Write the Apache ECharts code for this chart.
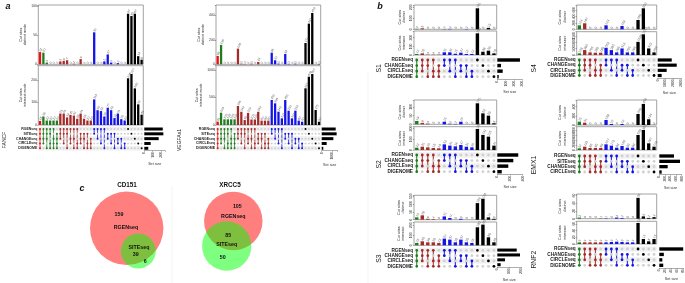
<!DOCTYPE html>
<html><head><meta charset="utf-8">
<script src="https://cdn.jsdelivr.net/npm/echarts@6/dist/echarts.min.js"></script>
<style>html,body{margin:0;padding:0;background:#fff}#c{width:685px;height:283px}</style>
</head><body><div id="c"></div>
<script>
// ---------- DATA ----------
const setsA = ['RGENseq','SITEseq','CHANGEseq','CIRCLEseq','DIGENOME'];
const setsB = ['RGENseq','CHANGEseq','CIRCLEseq','DIGENOME'];
const setsEMX1 = ['RGENseq','SITEseq','CHANGEseq','CIRCLEseq'];

const combos5 = [[0,1,2,3,4],[0,1,2,3],[0,1,2,4],[0,1,3,4],[0,2,3,4],[1,2,3,4],
  [0,1,2],[0,1,3],[0,1,4],[0,2,3],[0,2,4],[0,3,4],[1,2,3],[1,2,4],[1,3,4],[2,3,4],
  [0,1],[0,2],[0,3],[0,4],[1,2],[1,3],[1,4],[2,3],[2,4],[3,4],[0],[1],[2],[3],[4]];
const combos4 = [[0,1,2,3],[0,1,2],[0,1,3],[0,2,3],[1,2,3],[0,1],[0,2],[0,3],[1,2],[1,3],[2,3],[0],[1],[2],[3]];

const fancfDistinct  = [21,20,3,0,0,0, 5,6,7,0,1,0,9,0,0,0, 55,0,0,5,17,3,0,2,0,0, 87,83,87,14,8];
const fancfIntersect = [18,38,20,20,20,20, 51,51,34,45,42,28,51,28,20,20, 114,66,62,38,77,66,31,51,26,20, 208,227,163,92,46];
const fancfSetSize   = [222,229,173,77,48];

const vegfaDistinct  = [68,158,0,0,0,0, 128,5,3,0,5,0,19,0,0,0, 95,33,5,0,84,3,0,5,0,0, 174,332,419,0,3];
const vegfaIntersect = [61,224,103,103,103,103, 345,240,90,220,100,100,240,80,80,80, 455,394,242,121,455,260,121,260,80,60, 667,878,927,273,60];
const vegfaSetSize   = [1320,1410,1100,470,150];

const s1Distinct  = [4,9,0,0,0, 2,4,0,0,3,0, 191,0,13,0];
const s1Intersect = [12,19,4,4,4, 31,31,15,27,12,12, 250,38,50,19];
const s1SetSize   = [273,45,65,17];

const s4Distinct  = [124,187,0,0,0, 124,0,0,104,0,0, 290,653,0,0];
const s4Intersect = [128,385,205,180,180, 564,385,205,513,205,205, 1025,1615,513,205];
const s4SetSize   = [1800,2440,1150,510];

const s2Distinct  = [19,8,4,0,0, 15,3,2,15,0,0, 121,63,50,6];
const s2Intersect = [22,31,25,19,16, 53,41,34,47,31,25, 197,141,125,41];
const s2SetSize   = [330,252,173,70];

const emx1Distinct  = [73,51,0,0,0, 109,22,0,22,0,0, 240,458,124,4];
const emx1Intersect = [67,133,80,80,80, 227,173,93,160,93,93, 600,800,267,133];
const emx1SetSize   = [525,740,300,85];

const s3Distinct  = [15,28,6,4,0, 21,11,0,6,0,0, 106,134,15,6];
const s3Intersect = [23,40,30,30,23, 67,57,30,57,30,23, 180,207,80,30];
const s3SetSize   = [162,189,64,28];

const rnf2Distinct  = [3,0,0,0,1, 1,0,3,2,0,0, 54,6,2,4];
const rnf2Intersect = [5,5,5,5,5, 5,6,7,6,5,5, 63,15,8,15];
const rnf2SetSize   = [79,15,10,13];

// Venn counts: [RGENseq only, both, SITEseq only]
const cd151Counts = [159,39,6];
const xrcc5Counts = [105,85,50];

// ---------- DRAWING ----------
const FONT = 'Liberation Sans';
const PAL = {1:'#000000',2:'#1414e6',3:'#a52a2a',4:'#1e7d1e',5:'#ee1111'};
function fmt(step){ return v => (Math.abs(v/step - Math.round(v/step)) < 1e-6 ? String(v) : ''); }

const option = {animation:false, backgroundColor:'#fff', grid:[], xAxis:[], yAxis:[], series:[], graphic:[]};

function addUpset(opt, c) {
  const ns = c.sets.length;
  const cats = c.combos.map((_, i) => String(i));
  const W = c.x1 - c.x0;
  const band = (c.rows[1] - c.rows[0]) / (ns - 1);
  const mTop = c.rows[0] - band / 2, mH = band * ns;
  const g0 = opt.grid.length;
  opt.grid.push(
    {left:c.x0, top:c.a[0], width:W, height:c.a[1]-c.a[0], show:true, borderColor:'#8a8a8a', borderWidth:0.8},
    {left:c.x0, top:c.b[0], width:W, height:c.b[1]-c.b[0], show:true, borderColor:'#8a8a8a', borderWidth:0.8},
    {left:c.x0, top:mTop, width:W, height:mH},
    {left:c.ss[0], top:mTop, width:c.ss[1]-c.ss[0], height:mH}
  );
  const yVal = (gi, max, step, name, gap) => ({type:'value', gridIndex:gi, min:0, max:max, interval:step,
    splitLine:{show:false}, axisLine:{show:false},
    axisTick:{show:true, length:1.2, lineStyle:{color:'#555', width:0.5}},
    axisLabel:{fontSize:c.tickFs, color:'#333', margin:1.3, rotate:c.tickRot, fontFamily:FONT, formatter:fmt(step)},
    name:name, nameLocation:'middle', nameRotate:90, nameGap:gap,
    nameTextStyle:{fontSize:c.nameFs, lineHeight:c.nameFs*1.15, color:'#222', fontFamily:FONT}});
  opt.xAxis.push(
    {type:'category', gridIndex:g0, data:cats, show:false},
    {type:'category', gridIndex:g0+1, data:cats, show:false},
    {type:'category', gridIndex:g0+2, data:cats, show:false},
    {type:'value', gridIndex:g0+3, min:0, max:c.ssMax, interval:c.ssInt, splitLine:{show:false},
      axisLine:{show:true, lineStyle:{color:'#777', width:0.6}},
      axisTick:{show:true, length:1.2, lineStyle:{color:'#777', width:0.5}},
      axisLabel:{rotate:90, fontSize:c.tickFs, color:'#333', margin:1.3, fontFamily:FONT, formatter:fmt(c.ssInt)},
      name:'Set size', nameLocation:'middle', nameGap:c.ssGap,
      nameTextStyle:{fontSize:c.tickFs+0.3, color:'#333', fontFamily:FONT}}
  );
  opt.yAxis.push(
    yVal(g0, c.aMax, c.aInt, c.aName, c.nameGap),
    yVal(g0+1, c.bMax, c.bInt, c.bName, c.nameGap),
    {type:'category', gridIndex:g0+2, data:c.sets, inverse:true, axisLine:{show:false}, axisTick:{show:false},
      axisLabel:{interval:0, fontSize:c.setFs, fontWeight:'bold', color:'#222', margin:1, fontFamily:FONT}},
    {type:'category', gridIndex:g0+3, data:c.sets, inverse:true, show:false}
  );
  const barLabel = {show:true, position:'top', rotate:60, align:'left', verticalAlign:'middle', distance:0.8,
    fontSize:c.valFs, color:'#555', fontFamily:FONT};
  const colored = vals => vals.map((v, i) => ({value:v, itemStyle:{color:PAL[c.combos[i].length]}}));
  opt.series.push(
    {type:'bar', xAxisIndex:g0, yAxisIndex:g0, data:colored(c.distinct), barWidth:c.barW, label:barLabel},
    {type:'bar', xAxisIndex:g0+1, yAxisIndex:g0+1, data:colored(c.intersect), barWidth:c.barW, label:barLabel},
    {type:'custom', xAxisIndex:g0+2, yAxisIndex:g0+2, silent:true, z:1,
      data:c.sets.map((s, r) => [0, r]),
      renderItem:(p, api) => {
        const r = api.value(1);
        if (r % 2) return null;
        const y = api.coord([0, r])[1];
        const cs = p.coordSys;
        return {type:'rect', shape:{x:cs.x, y:y-band*0.48, width:cs.width, height:band*0.96}, style:{fill:'#f0f0f0'}};
      }},
    {type:'custom', xAxisIndex:g0+2, yAxisIndex:g0+2, silent:true, z:2,
      data:c.combos.map((_, i) => [i, 0]),
      renderItem:(p, api) => {
        const i = api.value(0);
        const combo = c.combos[i];
        const col = PAL[combo.length];
        const pts = c.sets.map((s, r) => api.coord([i, r]));
        const lo = Math.min(...combo), hi = Math.max(...combo);
        const ch = [];
        if (hi > lo) ch.push({type:'line', shape:{x1:pts[lo][0], y1:pts[lo][1], x2:pts[hi][0], y2:pts[hi][1]},
          style:{stroke:col, lineWidth:c.lw}});
        pts.forEach((pt, r) => ch.push({type:'circle', shape:{cx:pt[0], cy:pt[1], r:c.dotR},
          style:{fill: combo.includes(r) ? col : '#d0d0d0'}}));
        return {type:'group', children:ch};
      }},
    {type:'bar', xAxisIndex:g0+3, yAxisIndex:g0+3, data:c.setSize, barWidth:'62%', itemStyle:{color:'#000'}}
  );
  opt.graphic.push({type:'text', x:c.side[0], y:c.side[1], rotation:Math.PI/2,
    style:{text:c.sideText, fontSize:c.sideFs, fontFamily:FONT, fill:'#222', align:'center', verticalAlign:'middle'}});
}

const stA = {tickFs:3.4, tickRot:0, nameFs:3.6, setFs:3.5, valFs:3.1, sideFs:5, barW:'68%', dotR:1.0, lw:0.8,
  aName:'Cut sites\ndistinct mode', bName:'Cut sites\nintersect mode', ssGap:9.5};
const stB = {tickFs:3.4, tickRot:90, nameFs:3.8, setFs:4.7, valFs:3.3, sideFs:6.8, barW:'62%', dotR:1.4, lw:1.0,
  aName:'Cut sites\ndistinct', bName:'Cut sites\nintersect', ssGap:8.5};

addUpset(option, Object.assign({}, stA, {sets:setsA, combos:combos5, distinct:fancfDistinct, intersect:fancfIntersect, setSize:fancfSetSize,
  x0:38.3, x1:143.3, a:[5,64.3], aMax:102, aInt:50, b:[65.7,125], bMax:264, bInt:100, rows:[129,148.3],
  ss:[144.3,165.1], ssMax:250, ssInt:100, nameGap:11, side:[5,140], sideText:'FANCF'}));
addUpset(option, Object.assign({}, stA, {sets:setsA, combos:combos5, distinct:vegfaDistinct, intersect:vegfaIntersect, setSize:vegfaSetSize,
  x0:216, x1:320.7, a:[5,64.3], aMax:484, aInt:200, b:[65.7,125], bMax:1078, bInt:500, rows:[129,148.3],
  ss:[321.7,337.6], ssMax:1500, ssInt:1000, nameGap:9, side:[180,140], sideText:'VEGFAs1'}));

addUpset(option, Object.assign({}, stB, {sets:setsB, combos:combos4, distinct:s1Distinct, intersect:s1Intersect, setSize:s1SetSize,
  x0:414, x1:496.7, a:[5,29.3], aMax:221, aInt:100, b:[31,55], bMax:277, bInt:100, rows:[60,76.7],
  ss:[497.3,522.2], ssMax:300, ssInt:100, nameGap:7.5, side:[379.3,68.3], sideText:'S1'}));
addUpset(option, Object.assign({}, stB, {sets:setsB, combos:combos4, distinct:s4Distinct, intersect:s4Intersect, setSize:s4SetSize,
  x0:576.7, x1:656.7, a:[5,29.3], aMax:756, aInt:200, b:[31.7,55], bMax:1820, bInt:500, rows:[60,75.5],
  ss:[657.7,681.1], ssMax:3000, ssInt:1000, nameGap:10, side:[534.3,68.3], sideText:'S4'}));
addUpset(option, Object.assign({}, stB, {sets:setsB, combos:combos4, distinct:s2Distinct, intersect:s2Intersect, setSize:s2SetSize,
  x0:414, x1:496.7, a:[100,124.3], aMax:140, aInt:50, b:[126.7,150], bMax:218, bInt:100, rows:[155,171.7],
  ss:[497.3,522.7], ssMax:400, ssInt:200, nameGap:7.5, side:[379.3,164.3], sideText:'S2'}));
addUpset(option, Object.assign({}, stB, {sets:setsEMX1, combos:combos4, distinct:emx1Distinct, intersect:emx1Intersect, setSize:emx1SetSize,
  x0:576.7, x1:656.7, a:[100,125], aMax:543, aInt:200, b:[126.7,150], bMax:932, bInt:200, rows:[156,172],
  ss:[659.3,681.7], ssMax:800, ssInt:200, nameGap:10, side:[534.3,165], sideText:'EMX1'}));
addUpset(option, Object.assign({}, stB, {sets:setsB, combos:combos4, distinct:s3Distinct, intersect:s3Intersect, setSize:s3SetSize,
  x0:414, x1:496.7, a:[195.3,219.7], aMax:156, aInt:50, b:[222,245.3], bMax:233, bInt:100, rows:[250.3,266.3],
  ss:[497.3,521.3], ssMax:200, ssInt:100, nameGap:8.5, side:[379.3,258.7], sideText:'S3'}));
addUpset(option, Object.assign({}, stB, {sets:setsB, combos:combos4, distinct:rnf2Distinct, intersect:rnf2Intersect, setSize:rnf2SetSize,
  x0:576.7, x1:656.7, a:[194,218.7], aMax:64, aInt:20, b:[221.3,244], bMax:68, bInt:20, rows:[249,265.3],
  ss:[659.3,683.7], ssMax:80, ssInt:20, nameGap:10, side:[534.3,259.7], sideText:'RNF2'}));

// ---------- Venn (panel c) on a pixel-unit value grid ----------
const vg = option.grid.length;
option.grid.push({left:0, top:0, width:685, height:283});
option.xAxis.push({type:'value', gridIndex:vg, min:0, max:685, show:false});
option.yAxis.push({type:'value', gridIndex:vg, min:0, max:283, inverse:true, show:false});
const vennLayout = [
  {counts:cd151Counts, k:2.608, red:[126.7,228.3], green:[138.3,251]},
  {counts:xrcc5Counts, k:2.12, red:[233.3,221], green:[226.7,246]}
];
const vennData = [];
vennLayout.forEach(v => {
  vennData.push([v.red[0], v.red[1], v.counts[0] + v.counts[1], v.k, 0]);
  vennData.push([v.green[0], v.green[1], v.counts[1] + v.counts[2], v.k, 1]);
});
option.series.push({type:'custom', xAxisIndex:vg, yAxisIndex:vg, silent:true, data:vennData,
  renderItem:(p, api) => {
    const c = api.coord([api.value(0), api.value(1)]);
    const r = api.size([api.value(3) * Math.sqrt(api.value(2)), 0])[0];
    return {type:'circle', shape:{cx:c[0], cy:c[1], r:r},
      style:{fill: api.value(4) === 0 ? 'rgba(255,0,0,0.5)' : 'rgba(0,255,0,0.5)'}};
  }});

function txt(x, y, s, fs, extra) {
  return Object.assign({type:'text', x:x, y:y, z:100,
    style:Object.assign({text:s, fontSize:fs, fontFamily:FONT, fill:'#111', align:'center', verticalAlign:'middle'}, extra || {})});
}
option.graphic.push(
  txt(127, 185.5, 'CD151', 6.3, {fontWeight:'bold'}),
  txt(230, 185.5, 'XRCC5', 6.3, {fontWeight:'bold'}),
  txt(119, 214.3, String(cd151Counts[0]), 5.3, {fontWeight:'bold'}),
  txt(126, 227.3, 'RGENseq', 5.3, {fontWeight:'bold'}),
  txt(139, 247.3, 'SITEseq', 5.3, {fontWeight:'bold'}),
  txt(135.7, 255, String(cd151Counts[1]), 5.3, {fontWeight:'bold'}),
  txt(145.3, 262, String(cd151Counts[2]), 5.3, {fontWeight:'bold'}),
  txt(237.3, 206.7, String(xrcc5Counts[0]), 5.3, {fontWeight:'bold'}),
  txt(233.3, 216.7, 'RGENseq', 5.3, {fontWeight:'bold'}),
  txt(228.3, 235.7, String(xrcc5Counts[1]), 5.3, {fontWeight:'bold'}),
  txt(226.7, 244.3, 'SITEseq', 5.3, {fontWeight:'bold'}),
  txt(222.7, 257.3, String(xrcc5Counts[2]), 5.3, {fontWeight:'bold'}),
  txt(8, 7, 'a', 9, {fontWeight:'bold', fontStyle:'italic'}),
  txt(380, 7, 'b', 9, {fontWeight:'bold', fontStyle:'italic'}),
  txt(82, 189, 'c', 9, {fontWeight:'bold', fontStyle:'italic'}),
  {type:'line', shape:{x1:172, y1:186, x2:172, y2:283}, style:{stroke:'#ececec', lineWidth:0.6}},
  {type:'line', shape:{x1:368, y1:72, x2:368, y2:283}, style:{stroke:'#ececec', lineWidth:0.6}}
);

const chart = echarts.init(document.getElementById('c'), null, {renderer:'canvas', devicePixelRatio:1});
chart.setOption(option);
</script></body></html>
